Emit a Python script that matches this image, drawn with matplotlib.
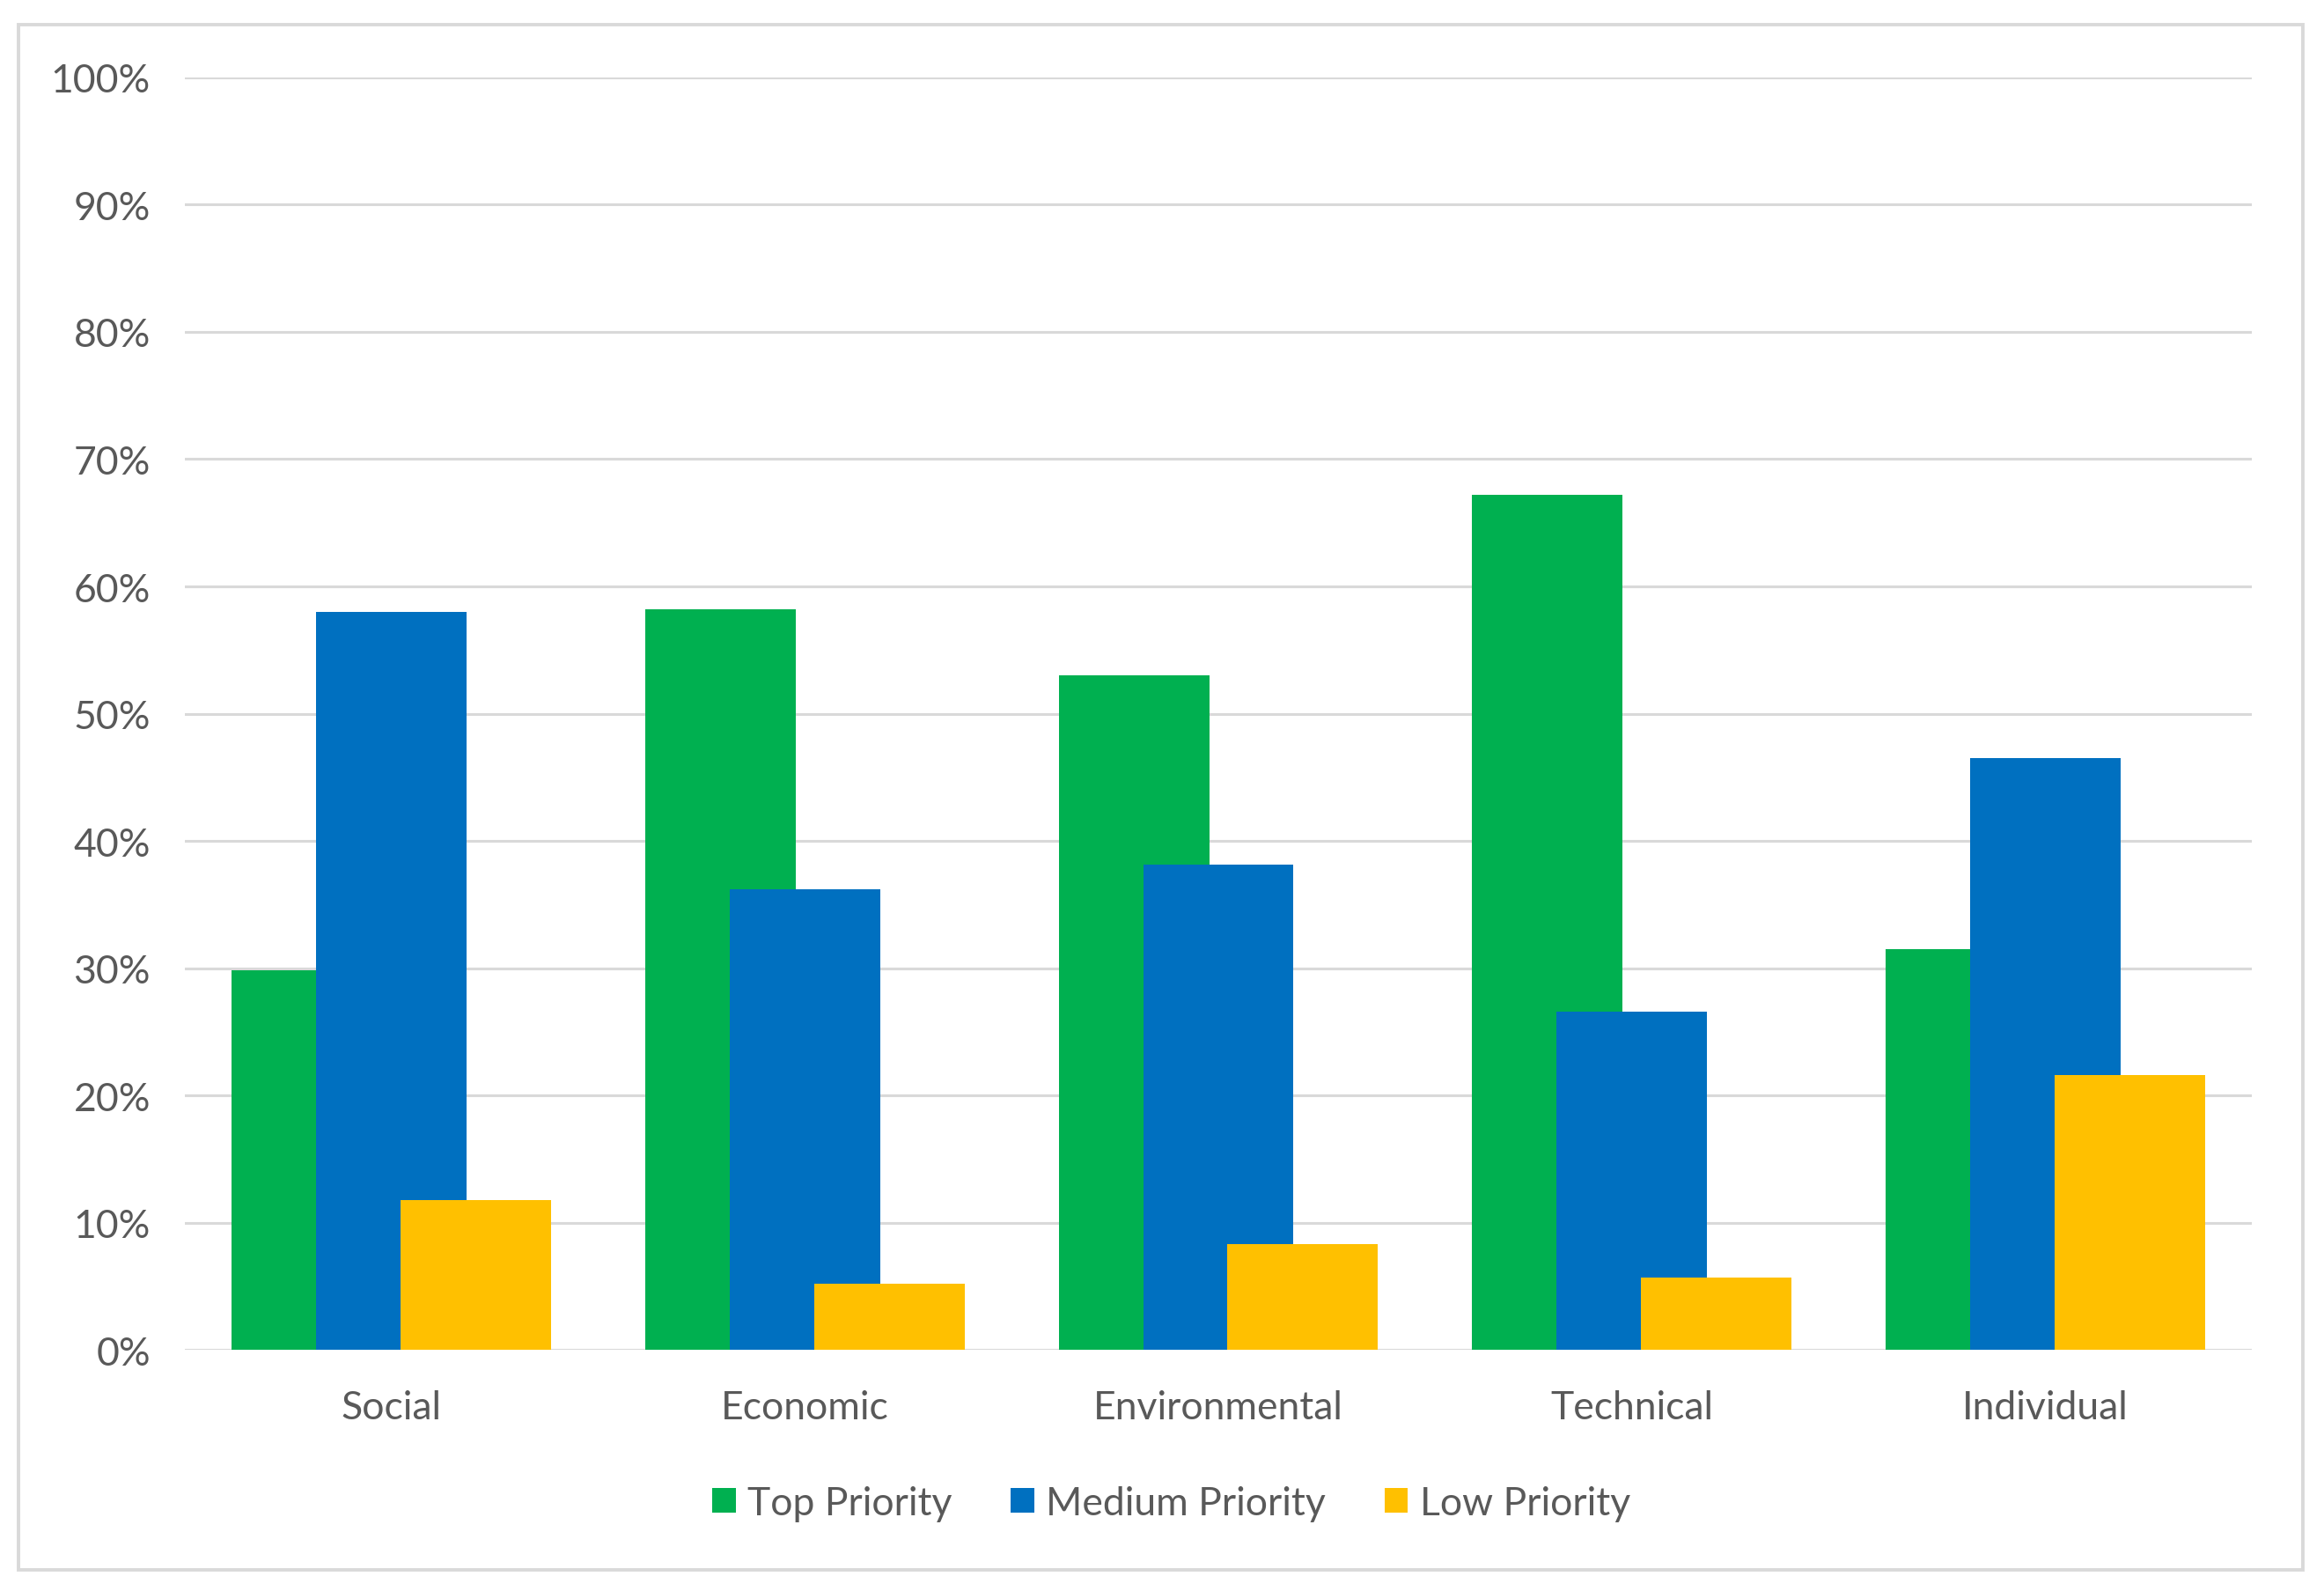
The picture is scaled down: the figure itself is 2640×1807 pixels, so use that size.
import matplotlib
matplotlib.use("Agg")
import matplotlib.pyplot as plt
import numpy as np
from matplotlib.patches import Rectangle

categories = ['Social', 'Economic', 'Environmental', 'Technical', 'Individual']
top_priority = [29.8, 58.2, 53.0, 67.2, 31.5]
medium_priority = [58.0, 36.2, 38.1, 26.6, 46.5]
low_priority = [11.8, 5.2, 8.3, 5.7, 21.6]
series_names = ['Top Priority', 'Medium Priority', 'Low Priority']
colors = ['#00B050', '#0070C0', '#FFC000']
text_color = '#595959'
grid_color = '#D9D9D9'

plt.rcParams['font.family'] = ['Lato', 'DejaVu Sans']

fig = plt.figure(figsize=(13.2, 9.04), dpi=200)
ax = fig.add_axes([0.0795, 0.1515, 0.8895, 0.7993])

x = np.arange(len(categories))
width = 0.364
step = 0.204
bars = []
for i, (vals, name, col) in enumerate(zip([top_priority, medium_priority, low_priority], series_names, colors)):
    # Excel-style overlapping bars: later series drawn on top
    b = ax.bar(x + (i - 1) * step, vals, width, color=col, label=name, zorder=2 + i)
    bars.append(b)

ax.set_xlim(-0.5, len(categories) - 0.5)
ax.set_ylim(0, 100)
ax.set_yticks(np.arange(0, 101, 10))
ax.set_yticklabels([f'{v}%' for v in range(0, 101, 10)])
ax.set_xticks(x)
ax.set_xticklabels(categories)
ax.yaxis.grid(True, color=grid_color, linewidth=1.1)
ax.set_axisbelow(True)
for s in ax.spines.values():
    s.set_visible(False)
ax.tick_params(axis='both', length=0, labelsize=16, colors=text_color)
ax.tick_params(axis='y', pad=14)
ax.tick_params(axis='x', pad=16)

fig.legend(handles=bars, labels=series_names, loc='center', bbox_to_anchor=(0.504, 0.0553),
           ncol=3, frameon=False, fontsize=16, labelcolor=text_color,
           handlelength=0.6, handleheight=0.6, handletextpad=0.3, columnspacing=1.5)

fig.patches.append(Rectangle((0.008, 0.013), 0.983, 0.971, transform=fig.transFigure,
                             fill=False, edgecolor=grid_color, linewidth=1.4))

fig.savefig('out.png', dpi=200, facecolor='white')
